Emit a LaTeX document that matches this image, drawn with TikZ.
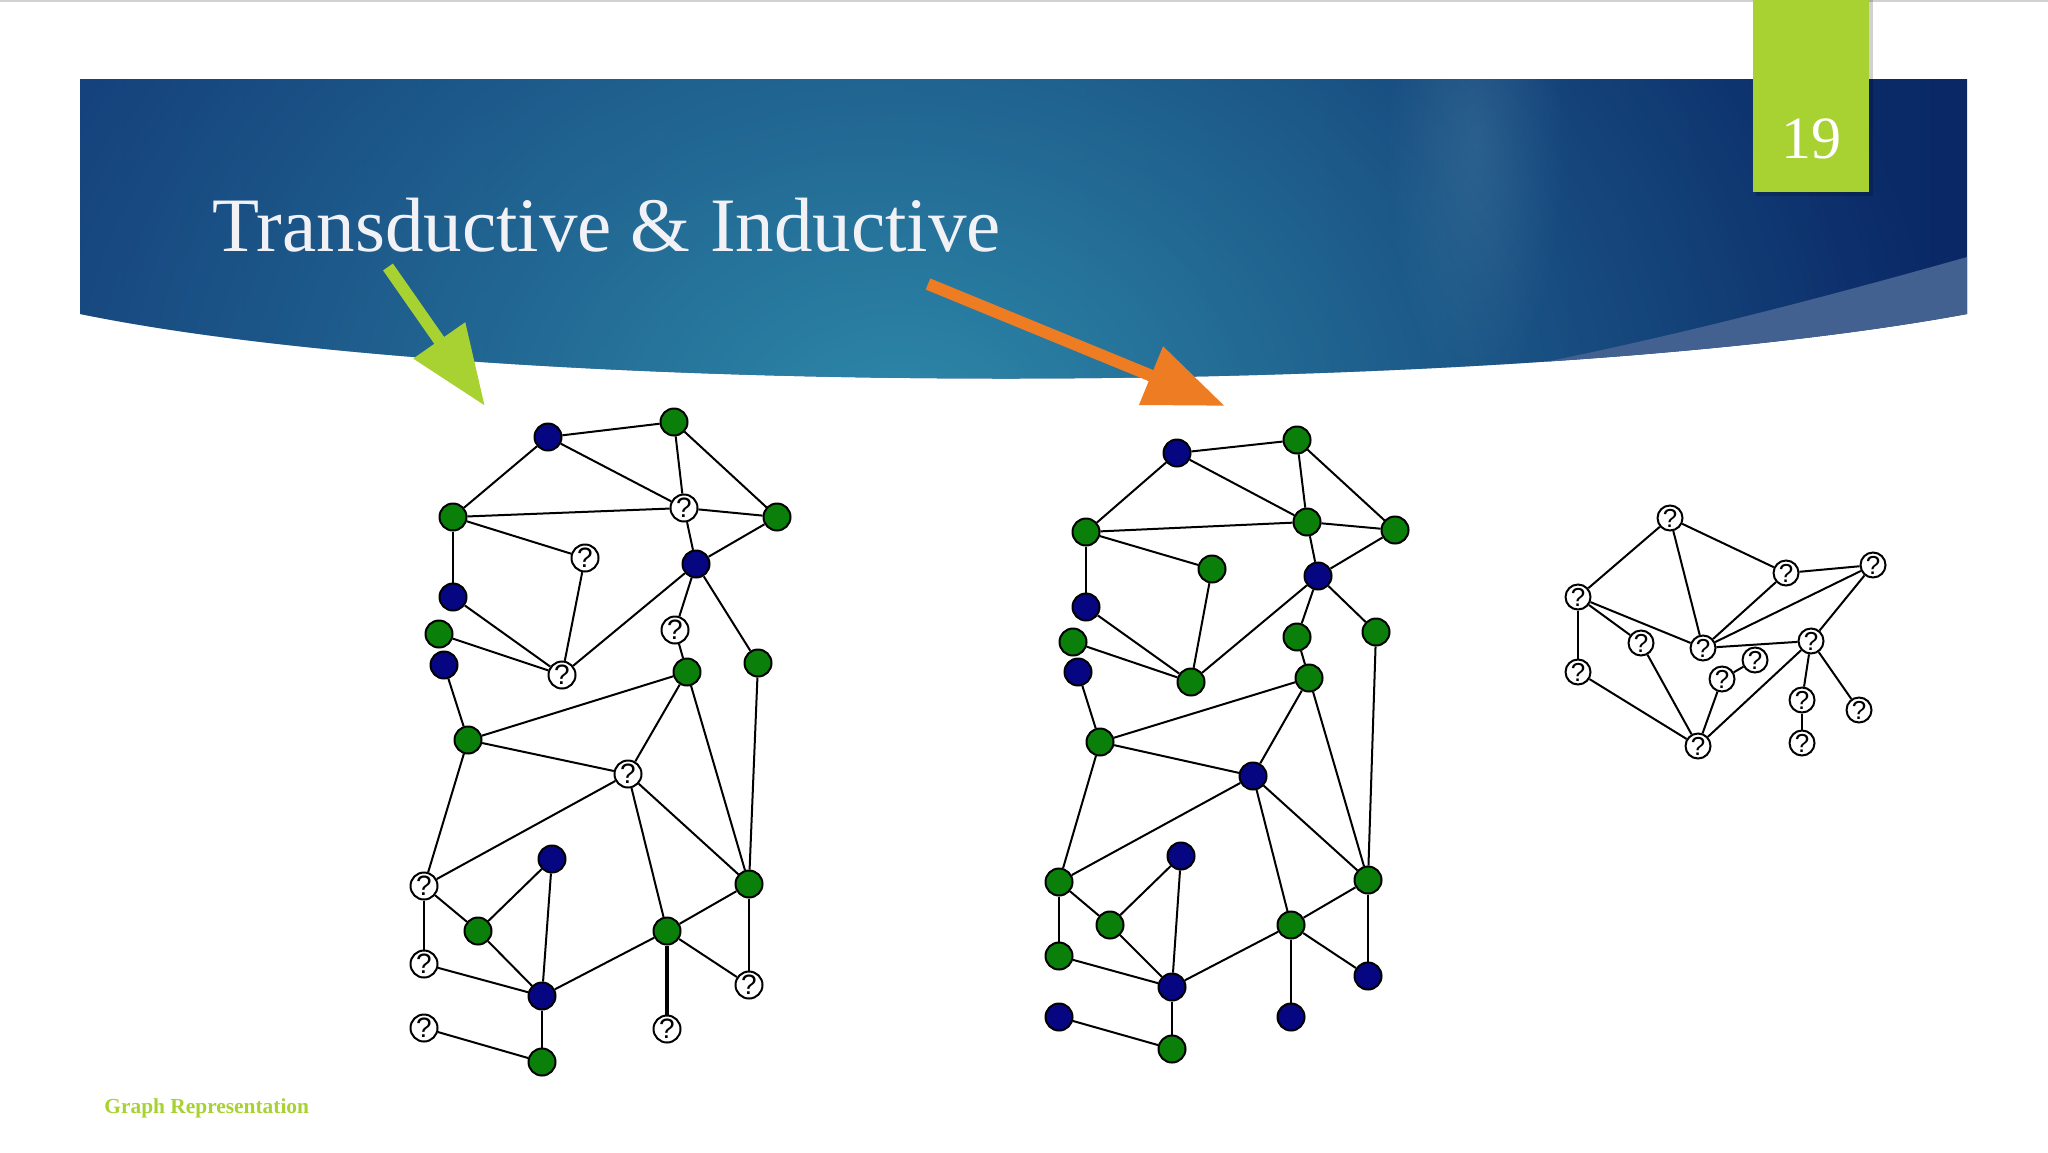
\documentclass[tikz,border=0pt]{standalone}
\usepackage{fontspec}
\setmainfont{Liberation Serif}
\newfontfamily\qfont{Liberation Sans}
\usetikzlibrary{arrows.meta,fadings}
\definecolor{navyL}{RGB}{18,56,118}
\definecolor{navyR}{RGB}{10,40,102}
\definecolor{tealC}{RGB}{46,138,170}
\definecolor{wedgeC}{RGB}{66,96,144}
\definecolor{limeC}{RGB}{168,210,50}
\definecolor{orangeC}{RGB}{238,124,34}
\definecolor{gnode}{RGB}{10,128,10}
\definecolor{bnode}{RGB}{6,6,130}
\definecolor{titleC}{RGB}{242,242,246}
\tikzfading[name=myfade, inner color=transparent!0, outer color=transparent!100]
\begin{document}
\begin{tikzpicture}[x=0.5pt,y=-0.5pt,
 nd/.style={circle,draw=black,line width=1pt,minimum size=13.5pt,inner sep=0pt},
 gn/.style={nd,fill=gnode},
 bn/.style={nd,fill=bnode},
 qn/.style={nd,fill=white,text=black,font=\qfont\fontsize{14pt}{14pt}\selectfont},
 sq/.style={qn,minimum size=12.5pt,font=\qfont\fontsize{13pt}{13pt}\selectfont},
 ed/.style={line width=1pt,draw=black},
 bigarrow/.style={line width=6pt,-{Triangle[width=30pt,length=40pt]}},
]
\useasboundingbox (0,0) rectangle (2048,1152);
\fill[white] (0,0) rectangle (2048,1152);
\fill[black!18] (0,0) rectangle (2048,2);

% header band
\begin{scope}
\clip (80,79) -- (1967,79) -- (1967,314) .. controls (1500,400) and (500,400) .. (80,314) -- cycle;
\shade[left color=navyL,right color=navyR] (60,60) rectangle (1990,420);
\fill[tealC,path fading=myfade] (900,440) ellipse (1050 and 850);
\fill[tealC!60!white,opacity=0.18,path fading=myfade] (1475,140) ellipse (90 and 260);
\fill[wedgeC] (1967,257) .. controls (1850,290) and (1650,345) .. (1450,380) -- (1450,500) -- (2048,500) -- (2048,257) -- cycle;
\end{scope}

% page tab
\fill[black,opacity=0.18] (1756,0) rectangle (1873,196);
\fill[limeC] (1753,0) rectangle (1869,192);
\node[anchor=base,text=white,font=\fontsize{30pt}{30pt}\selectfont,inner sep=0pt] (pagenum) at (1811,158) {19};

% title
\node[anchor=base west,text=titleC,font=\fontsize{38.5pt}{38.5pt}\selectfont,inner sep=0pt] (title) at (212,251) {Transductive \& Inductive};

% footer
\node[anchor=base west,text=limeC,font=\bfseries\fontsize{10.7pt}{10.7pt}\selectfont,inner sep=0pt] (footer) at (104,1113) {Graph Representation};

% arrows
\coordinate (gs) at (388,267);
\coordinate (ge) at (485,406);
\coordinate (os) at (928,284);
\coordinate (oe) at (1225,406);
\draw[bigarrow,limeC] (gs) -- (ge);
\draw[bigarrow,orangeC] (os) -- (oe);

% ---------- graph 1 (left) ----------
\node[bn] (LA) at (548,437) {};
\node[gn] (LB) at (674,422) {};
\node[qn] (LC) at (684,508) {?};
\node[gn] (LD) at (777,517) {};
\node[gn] (LE) at (453,517) {};
\node[qn] (LF) at (585,558) {?};
\node[bn] (LG) at (696,564) {};
\node[bn] (LH) at (453,597) {};
\node[gn] (LI) at (439,634) {};
\node[bn] (LJ) at (444,665) {};
\node[qn] (LK) at (562,675) {?};
\node[qn] (LL) at (675,630) {?};
\node[gn] (LM) at (687,672) {};
\node[gn] (LN) at (758,663) {};
\node[gn] (LO) at (468,740) {};
\node[qn] (LP) at (628,774) {?};
\node[qn] (LQ) at (424,886) {?};
\node[bn] (LR) at (552,859) {};
\node[gn] (LS) at (478,931) {};
\node[gn] (LT) at (749,884) {};
\node[gn] (LU) at (667,931) {};
\node[qn] (LV) at (424,964) {?};
\node[bn] (LW) at (542,996) {};
\node[qn] (LX) at (749,985) {?};
\node[qn] (LY) at (424,1028) {?};
\node[qn] (LZ) at (667,1029) {?};
\node[gn] (LAA) at (542,1062) {};

% ---------- graph 2 (middle) ----------
\node[bn] (MA) at (1177,453) {};
\node[gn] (MB) at (1297,440) {};
\node[gn] (MC) at (1307,522) {};
\node[gn] (MD) at (1395,530) {};
\node[gn] (ME) at (1086,532) {};
\node[gn] (MF) at (1212,569) {};
\node[bn] (MG) at (1318,576) {};
\node[bn] (MH) at (1086,607) {};
\node[gn] (MI) at (1073,642) {};
\node[bn] (MJ) at (1078,672) {};
\node[gn] (MK) at (1191,682) {};
\node[gn] (ML) at (1297,637) {};
\node[gn] (MM) at (1309,678) {};
\node[gn] (MN) at (1376,632) {};
\node[gn] (MO) at (1100,742) {};
\node[bn] (MP) at (1253,776) {};
\node[gn] (MQ) at (1059,882) {};
\node[bn] (MR) at (1181,856) {};
\node[gn] (MS) at (1110,925) {};
\node[gn] (MT) at (1368,880) {};
\node[gn] (MU) at (1291,925) {};
\node[gn] (MV) at (1059,956) {};
\node[bn] (MW) at (1172,987) {};
\node[bn] (MX) at (1368,976) {};
\node[bn] (MY) at (1059,1017) {};
\node[bn] (MZ) at (1291,1017) {};
\node[gn] (MAA) at (1172,1049) {};

\foreach \a/\b in {A/B,A/E,A/C,B/C,B/D,E/C,C/D,C/G,D/G,E/F,E/H,F/K,H/K,I/K,G/K,G/L,L/M,G/N,M/O,J/O,O/P,M/P,M/T,N/T,P/Q,O/Q,P/U,P/T,Q/S,Q/V,S/R,S/W,R/W,V/W,W/U,W/AA,U/T,U/X,T/X,Y/AA}{
  \draw[ed] (L\a) -- (L\b);
  \draw[ed] (M\a) -- (M\b);
}
\draw[ed,line width=1.6pt] (LU) -- (LZ);
\draw[ed] (MU) -- (MZ);

% ---------- graph 3 (right) ----------
\node[sq] (R1) at (1670,518) {?};
\node[sq] (R2) at (1786,573) {?};
\node[sq] (R3) at (1873,565) {?};
\node[sq] (R4) at (1578,597) {?};
\node[sq] (R5) at (1641,643) {?};
\node[sq] (R6) at (1703,648) {?};
\node[sq] (R7) at (1811,641) {?};
\node[sq] (R8) at (1755,660) {?};
\node[sq] (R9) at (1722,679) {?};
\node[sq] (R10) at (1578,672) {?};
\node[sq] (R11) at (1802,700) {?};
\node[sq] (R12) at (1859,710) {?};
\node[sq] (R13) at (1802,743) {?};
\node[sq] (R14) at (1698,746) {?};
\foreach \a/\b in {1/4,1/6,1/2,2/6,2/3,3/6,3/7,4/6,4/5,4/10,10/14,5/14,6/7,7/14,9/14,9/8,7/11,7/12,11/13}{
  \draw[ed] (R\a) -- (R\b);
}
\end{tikzpicture}
\end{document}
